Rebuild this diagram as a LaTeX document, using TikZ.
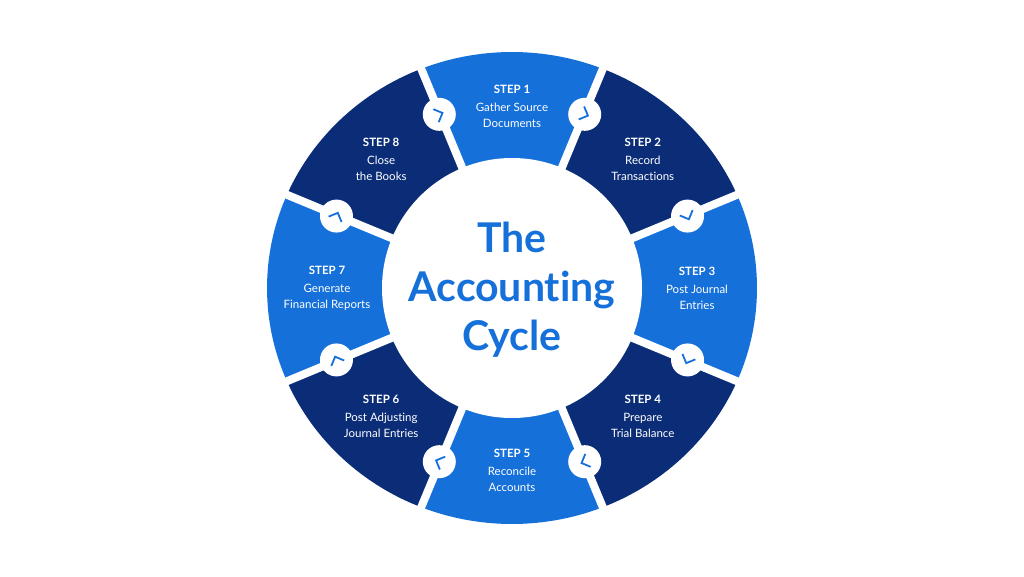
\documentclass[tikz,border=0pt]{standalone}
\usepackage{fontspec}
\setmainfont{Lato}[Ligatures=NoCommon]
\usetikzlibrary{calc}
\definecolor{navy}{HTML}{0B2D78}
\definecolor{bright}{HTML}{1570DA}
\begin{document}
\begin{tikzpicture}[x=1pt,y=1pt,
  steptxt/.style={text=white,align=center,font=\fontsize{11.5}{16}\selectfont,inner sep=0},
  sepcirc/.style={circle,fill=white,minimum size=33pt,inner sep=0}]
\useasboundingbox (0,0) rectangle (1024,-576);
\coordinate (c) at (512,-288);
\foreach \k in {1,...,8}{
  \pgfmathsetmacro{\am}{90-45*(\k-1)}
  \pgfmathsetmacro{\aa}{\am+22.5}
  \pgfmathsetmacro{\ab}{\am-22.5}
  \pgfmathtruncatemacro{\odd}{mod(\k,2)}
  \ifnum\odd=1 \def\col{bright}\else\def\col{navy}\fi
  \fill[\col] (c) -- ($(c)+({245*cos(\aa)},{236*sin(\aa)})$) arc[start angle=\aa,end angle=\ab,x radius=245,y radius=236] -- cycle;
}
\foreach \k in {1,...,8}{
  \pgfmathsetmacro{\a}{112.5-45*(\k-1)}
  \draw[white,line width=8] (c) -- ++({270*cos(\a)},{270*sin(\a)});
}
\fill[white] (c) circle[radius=130];
\node[text=bright,align=center,font=\bfseries\fontsize{41}{49}\selectfont] (title) at (512,-290) {The\\Accounting\\Cycle};
\foreach \k/\t in {1/{Gather Source\\Documents},2/{Record\\Transactions},3/{Post Journal\\Entries},4/{Prepare\\Trial Balance},5/{Reconcile\\Accounts},6/{Post Adjusting\\Journal Entries},7/{Generate\\Financial Reports},8/{Close\\the Books}}{
  \pgfmathsetmacro{\am}{90-45*(\k-1)}
  \node[steptxt] (s\k) at ($(c)+({185*cos(\am)},{182*sin(\am)})$) {{\bfseries STEP \k}\\[2pt]\t};
}
\foreach \k in {1,...,8}{
  \pgfmathsetmacro{\a}{67.5-45*(\k-1)}
  \node[sepcirc] (p\k) at ($(c)+({190*cos(\a)},{188*sin(\a)})$) {};
  \draw[bright,line width=1.8,rotate around={\a-90:(p\k.center)}] ($(p\k.center)+(-3.5,7)$) -- ($(p\k.center)+(3.5,0)$) -- ($(p\k.center)+(-3.5,-7)$);
}
\end{tikzpicture}
\end{document}
